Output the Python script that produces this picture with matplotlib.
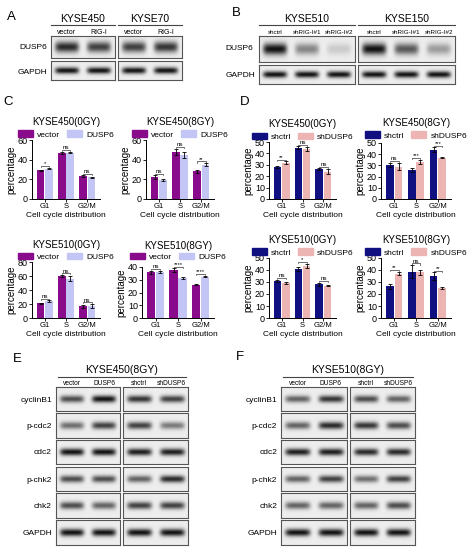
import numpy as np
import matplotlib
matplotlib.use("Agg")
import matplotlib.pyplot as plt

plt.rcParams['font.family'] = ['Liberation Sans', 'DejaVu Sans']

W, H = 476, 550
fig = plt.figure(figsize=(W/100, H/100), dpi=100)

def ax_px(x0, y0, x1, y1):
    return fig.add_axes([x0/W, 1-y1/H, (x1-x0)/W, (y1-y0)/H])

groups = ["G1", "S", "G2/M"]
C_labels = ["vector", "DUSP6"]
D_labels = ["shctrl", "shDUSP6"]
C_colors = ["#8A0A8C", "#C3C6F4"]
D_colors = ["#101080", "#EDB4B4"]

C_titles = ["KYSE450(0GY)", "KYSE450(8GY)", "KYSE510(0GY)", "KYSE510(8GY)"]
C_a = [[29, 47, 23], [22, 48, 28], [21, 60, 17], [36, 37.5, 26]]
C_b = [[31, 47, 22], [19, 45, 35], [24, 56, 17], [36, 31.5, 32.5]]
C_ea = [[0.8, 1, 1], [2, 3, 1.5], [0.8, 1.5, 2], [1.2, 1.5, 0.5]]
C_eb = [[0.6, 0.6, 0.6], [1.2, 3, 1.5], [1.2, 3.5, 3], [0.5, 0.6, 0.6]]
C_sig = [["*", "ns", "ns"], ["ns", "ns", "**"], ["ns", "ns", "ns"], ["ns", "****", "****"]]
C_ymax = [60, 60, 80, 40]
C_step = [20, 20, 20, 10]

D_titles = ["KYSE450(0GY)", "KYSE450(8GY)", "KYSE510(0GY)", "KYSE510(8GY)"]
D_a = [[28, 45, 26], [30, 26, 44], [31, 41, 28], [26.5, 38.5, 35]]
D_b = [[32, 44, 24], [29, 33, 37], [29, 43.5, 27], [37, 38, 25]]
D_ea = [[0.8, 1.2, 0.8], [1.8, 1.5, 2], [1, 1.5, 1.5], [2, 5.5, 3]]
D_eb = [[1, 1.8, 2], [3.5, 2, 0.6], [1, 1.5, 0.6], [1.5, 2, 0.6]]
D_sig = [["**", "ns", "ns"], ["ns", "***", "***"], ["ns", "*", "ns"], ["**", "ns", "**"]]
D_ymax = [50, 50, 50, 50]
D_step = [10, 10, 10, 10]

def barpanel(rect, title, a, b, ea, eb, sig, ymax, step, labels, colors, legy=1.02):
    ax = ax_px(*rect)
    x = np.arange(3)
    w = 0.36
    ax.bar(x - w/2 - 0.02, a, w, color=colors[0], yerr=ea, capsize=1.3, error_kw=dict(lw=0.6, capthick=0.6))
    ax.bar(x + w/2 + 0.02, b, w, color=colors[1], yerr=eb, capsize=1.3, error_kw=dict(lw=0.6, capthick=0.6))
    ax.set_ylim(0, ymax)
    ax.set_xlim(-0.6, 2.6)
    ax.set_yticks(np.arange(0, ymax + 1, step))
    ax.set_xticks(x)
    ax.set_xticklabels(groups)
    ax.tick_params(axis="x", labelsize=5.5, length=2, width=0.6, pad=1)
    ax.tick_params(axis="y", labelsize=6.5, length=2, width=0.6, pad=1)
    for s in ["top", "right"]:
        ax.spines[s].set_visible(False)
    for s in ["left", "bottom"]:
        ax.spines[s].set_linewidth(0.7)
    ax.set_ylabel("percentage", fontsize=7, labelpad=1)
    ax.set_xlabel("Cell cycle distribution", fontsize=6, labelpad=1)
    for i in range(3):
        top = max(a[i] + ea[i], b[i] + eb[i]) + ymax * 0.03
        x0, x1 = i - w/2 - 0.02, i + w/2 + 0.02
        ax.plot([x0, x0, x1, x1], [top - ymax*0.02, top, top, top - ymax*0.02], color="k", lw=0.4, clip_on=False)
        ax.text(i, top - ymax*0.005, sig[i], ha="center", va="bottom", fontsize=4.5 if sig[i] == "ns" else 4.2)
    h = [plt.Rectangle((0, 0), 1, 1, color=c) for c in colors]
    ax.legend(h, labels, loc="lower center", bbox_to_anchor=(0.5, legy), ncol=2, frameon=False,
              fontsize=6, handlelength=1.8, handleheight=0.9, columnspacing=0.8, handletextpad=0.5,
              borderaxespad=0, borderpad=0)
    ax.text(0.5, legy + 0.2, title, transform=ax.transAxes, ha="center", va="bottom", fontsize=7)
    return ax

C_rects = [(32, 140, 100, 199), (146, 140, 214, 199), (32, 262, 100, 318), (142, 267, 214, 318)]
D_rects = [(269, 142, 336, 199), (381, 143, 451, 199), (269, 258, 336, 318), (381, 258, 451, 318)]
C_legy = [1.02, 1.02, 1.02, 1.12]
D_legy = [1.02, 1.06, 1.02, 1.02]
for i in range(4):
    barpanel(C_rects[i], C_titles[i], C_a[i], C_b[i], C_ea[i], C_eb[i], C_sig[i], C_ymax[i], C_step[i],
             C_labels, C_colors, C_legy[i])
    barpanel(D_rects[i], D_titles[i], D_a[i], D_b[i], D_ea[i], D_eb[i], D_sig[i], D_ymax[i], D_step[i],
             D_labels, D_colors, D_legy[i])

# ---- blots ----
def blot(rect, intens, width=0.75, height=0.4):
    ax = ax_px(*rect)
    n = len(intens)
    xs = np.linspace(0, n, 200 * n)
    ys = np.linspace(-1, 1, 60)
    X, Y = np.meshgrid(xs, ys)
    img = np.zeros_like(X)
    for i, v in enumerate(intens):
        img += v * np.exp(-((X - (i + 0.5)) / (width * 0.5)) ** 6 - (Y / height) ** 2)
    img = 0.93 - 0.9 * np.clip(img, 0, 1)
    ax.imshow(img, cmap="gray", vmin=0, vmax=1, aspect="auto", extent=[0, n, -1, 1])
    ax.set_xticks([]); ax.set_yticks([])
    for s in ax.spines.values():
        s.set_linewidth(0.8)
        s.set_color("#555555")
    return ax

def ftext(x, y, s, **kw):
    fig.text(x/W, 1 - y/H, s, **kw)

def hline(x0, x1, y):
    fig.add_artist(plt.Line2D([x0/W, x1/W], [1-y/H, 1-y/H], color="#444444", lw=0.8))

# Panel A
ftext(7, 20, "A", fontsize=9.5)
A_dusp6 = [[0.85, 0.75], [0.75, 0.8]]
A_gapdh = [[0.95, 0.95], [0.95, 0.95]]
A_lanes = [["vector", "RIG-I"], ["vector", "RIG-I"]]
A_cells = ["KYSE450", "KYSE70"]
A_x = [(51, 115), (118, 182)]
for k in range(2):
    x0, x1 = A_x[k]
    ftext((x0+x1)/2, 22, A_cells[k], fontsize=7.5, ha="center")
    hline(x0, x1, 25)
    for j, l in enumerate(A_lanes[k]):
        ftext(x0 + (j + 0.5) * (x1 - x0) / 2, 34, l, fontsize=5, ha="center")
    blot((x0, 36, x1, 58), A_dusp6[k], height=0.5)
    blot((x0, 61, x1, 80), A_gapdh[k], height=0.35)
ftext(47, 49, "DUSP6", fontsize=6, ha="right")
ftext(47, 74, "GAPDH", fontsize=6, ha="right")

# Panel B
ftext(232, 16, "B", fontsize=9.5)
B_dusp6 = [[0.95, 0.45, 0.15], [0.95, 0.65, 0.35]]
B_gapdh = [[0.95, 0.95, 0.95], [0.95, 0.95, 0.95]]
B_lanes = ["shctrl", "shRIG-I#1", "shRIG-I#2"]
B_cells = ["KYSE510", "KYSE150"]
B_x = [(259, 355), (358, 455)]
for k in range(2):
    x0, x1 = B_x[k]
    ftext((x0+x1)/2, 22, B_cells[k], fontsize=7.5, ha="center")
    hline(x0, x1, 25)
    for j, l in enumerate(B_lanes):
        ftext(x0 + (j + 0.5) * (x1 - x0) / 3, 34, l, fontsize=4.5, ha="center")
    blot((x0, 36, x1, 62), B_dusp6[k], height=0.45)
    blot((x0, 65, x1, 84), B_gapdh[k], height=0.35)
ftext(253, 50, "DUSP6", fontsize=6, ha="right")
ftext(255, 77, "GAPDH", fontsize=6, ha="right")

ftext(3, 105, "C", fontsize=9.5)
ftext(240, 105, "D", fontsize=9.5)

# Panels E, F
proteins = ["cyclinB1", "p-cdc2", "cdc2", "p-chk2", "chk2", "GAPDH"]
row_y = [(387, 411), (413, 438), (440, 464), (467, 491), (493, 518), (520, 545)]
E_left = [[0.7, 0.95], [0.55, 0.75], [0.95, 0.95], [0.7, 0.7], [0.7, 0.6], [0.95, 0.95]]
E_right = [[0.8, 0.75], [0.75, 0.5], [0.9, 0.9], [0.6, 0.85], [0.75, 0.75], [0.95, 0.95]]
F_left = [[0.6, 0.8], [0.6, 0.85], [0.9, 0.9], [0.6, 0.75], [0.6, 0.6], [0.95, 0.95]]
F_right = [[0.7, 0.6], [0.8, 0.7], [0.85, 0.85], [0.55, 0.75], [0.6, 0.7], [0.95, 0.95]]
EF = [("E", "KYSE450(8GY)", 13, 362, 52, (56, 120), (123, 188), E_left, E_right),
      ("F", "KYSE510(8GY)", 236, 360, 277, (281, 347), (350, 415), F_left, F_right)]
for letter, title, lx, ly, labx, (a0, a1), (b0, b1), left, right in EF:
    ftext(lx, ly, letter, fontsize=9.5)
    ftext((a0 + b1)/2, 373, title, fontsize=7.5, ha="center")
    hline(a0 + 2, b1 - 2, 377)
    for j, l in enumerate(["vector", "DUSP6"]):
        ftext(a0 + (j + 0.5) * (a1 - a0) / 2, 385, l, fontsize=4.8, ha="center")
    for j, l in enumerate(["shctrl", "shDUSP6"]):
        ftext(b0 + (j + 0.5) * (b1 - b0) / 2, 385, l, fontsize=4.8, ha="center")
    for r, p in enumerate(proteins):
        y0, y1 = row_y[r]
        blot((a0, y0, a1, y1), left[r], height=0.3)
        blot((b0, y0, b1, y1), right[r], height=0.3)
        ftext(labx, (y0 + y1)/2 + 2.5, p, fontsize=6, ha="right")

fig.savefig("out.png", dpi=100)
